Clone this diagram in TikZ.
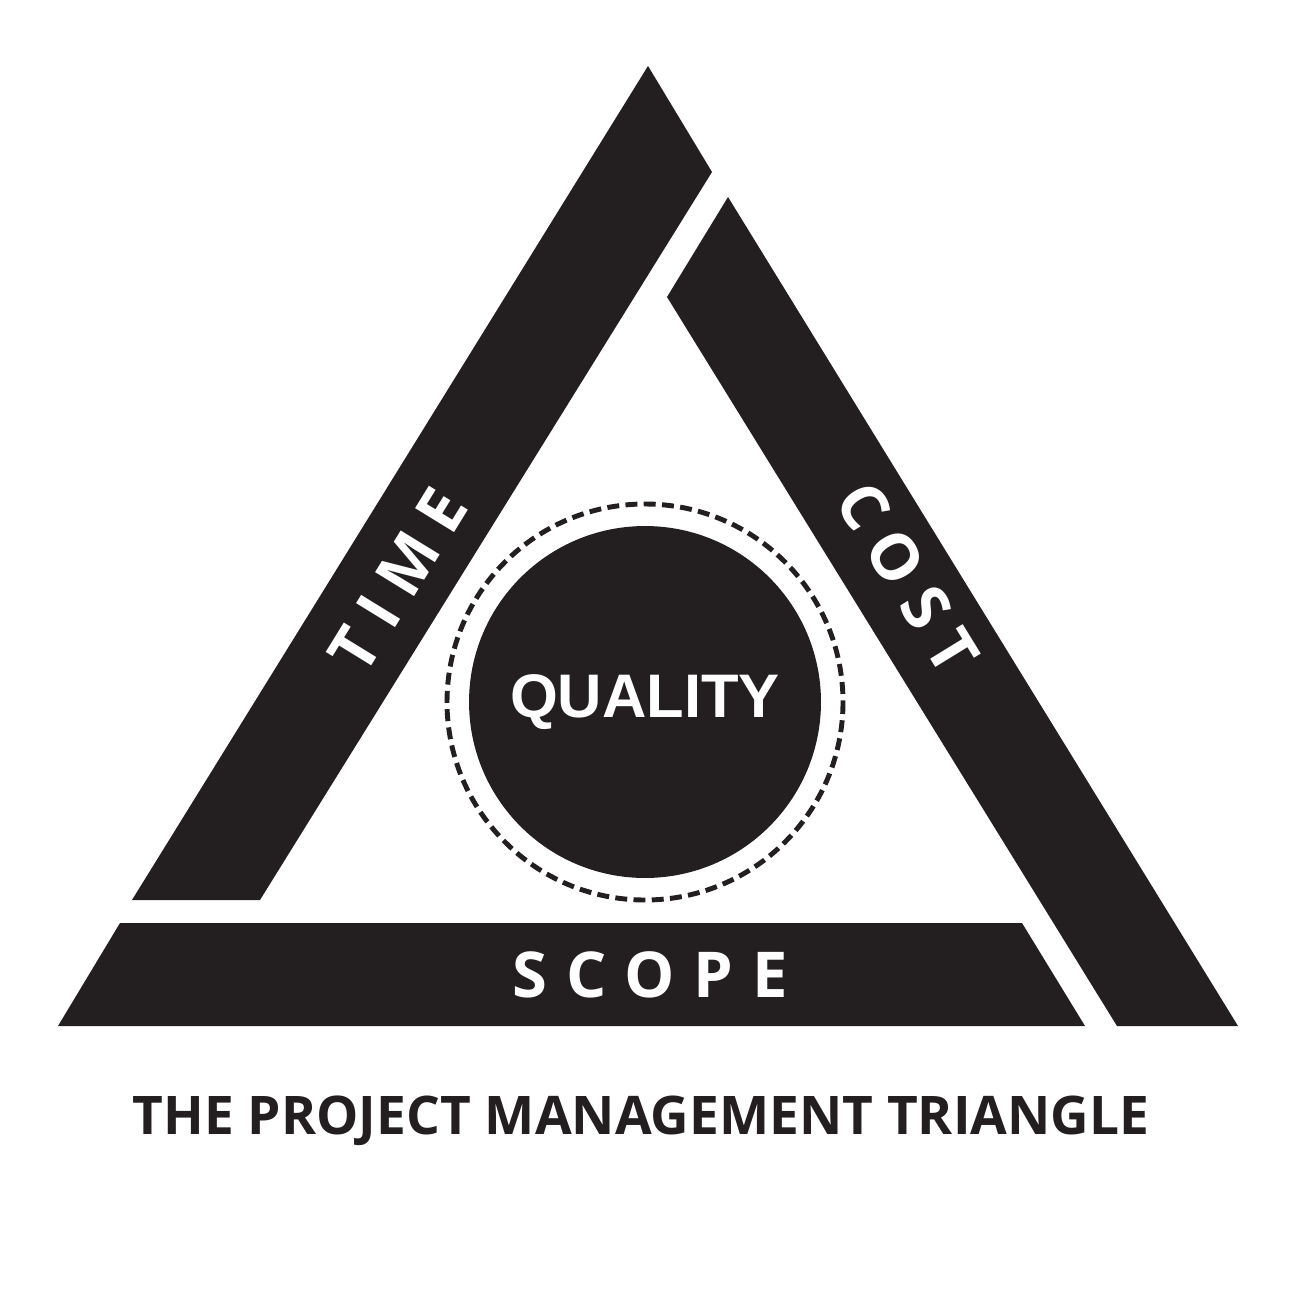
\documentclass[tikz,border=0pt]{standalone}
\usepackage{fontspec}
\setmainfont{Liberation Sans}
\newfontfamily\titlefont{Open Sans}
\usetikzlibrary{positioning}

\definecolor{ink}{HTML}{231F20}

\begin{document}
\begin{tikzpicture}[x=0.02cm, y=-0.02cm,
    bar/.style={fill=ink},
    barlabel/.style={text=white, inner sep=0pt, font={\titlefont\bfseries\fontsize{36.5}{40}\selectfont\addfontfeature{LetterSpace=24}}},
    ring/.style={draw=ink, line width=2.8pt, dash pattern=on 6.8pt off 3.6pt}]
\useasboundingbox (0,0) rectangle (1300,1294);

% the three sides
\fill[bar] (648,66) -- (712,172) -- (260,900) -- (132,900) -- cycle;
\fill[bar] (728,197) -- (1238,1026) -- (1117,1026) -- (667,297) -- cycle;
\fill[bar] (120,923) -- (1022,923) -- (1085,1026) -- (58,1026) -- cycle;

% quality in the middle
\node[circle, fill=ink, minimum size=7.04cm, inner sep=0pt, text=white, font={\bfseries\fontsize{35}{40}\selectfont}] (quality) at (645,702) {QUALITY};
\draw[ring] (quality.center) circle[radius=198];

\node[barlabel, rotate=58.4] (time) at (398,580) {TIME};
\node[barlabel, rotate=-58.4] (cost) at (908,578) {COST};
\node[barlabel, font={\titlefont\bfseries\fontsize{36}{40}\selectfont\addfontfeature{LetterSpace=30}}] (scope) at (650,975) {SCOPE};

\node[text=ink, font={\titlefont\bfseries\fontsize{30.3}{34}\selectfont}] (title) at (641,1121) {THE PROJECT MANAGEMENT TRIANGLE};
\end{tikzpicture}
\end{document}
